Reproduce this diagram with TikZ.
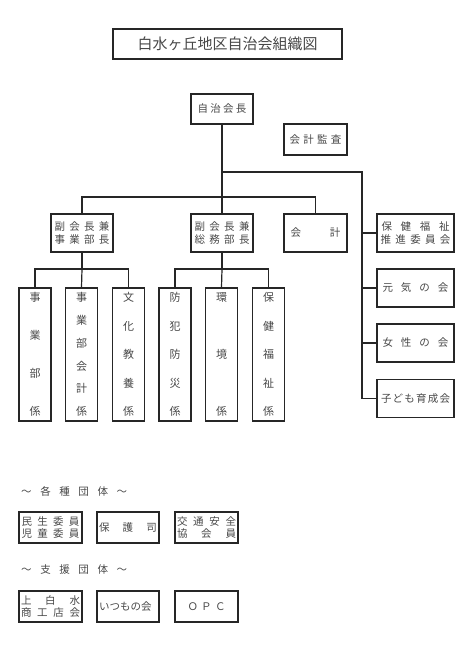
\documentclass[tikz,border=0pt]{standalone}
\usepackage{fontspec}
\newfontfamily\jpn{Noto Sans CJK JP}
\newcommand\jst[2]{\makebox[#1][s]{#2}}
\newcommand\vcol[1]{\parbox[c][123pt][s]{14pt}{\centering #1}}
\tikzset{
  bx/.style={draw=black!85, line width=1.3pt, inner sep=0pt, align=center,
    text=black!72, font=\jpn\fontsize{10.5}{13}\selectfont},
  vbx/.style={bx, minimum width=32pt, minimum height=133pt, font=\jpn\fontsize{11}{12}\selectfont},
  rbx/.style={bx, minimum width=77pt, minimum height=38pt},
  obx/.style={bx, minimum width=63pt, minimum height=31pt, font=\jpn\fontsize{10.5}{12}\selectfont},
  ln/.style={draw=black!85, line width=1.2pt},
  hdr/.style={anchor=west, inner sep=0pt, text=black!72, font=\jpn\fontsize{10.5}{12}\selectfont}
}
\begin{document}
\begin{tikzpicture}[x=1pt,y=-1pt]
\useasboundingbox (0,0) rectangle (474,653);
% title
\node[bx, minimum width=229pt, minimum height=30pt, line width=1.1pt, font=\jpn\fontsize{15}{18}\selectfont] (title) at (227.5,44) {白水ヶ丘地区自治会組織図};
% top
\node[bx, minimum width=62pt, minimum height=30pt] (chair) at (222,109) {\jst{49pt}{自\hfill 治\hfill 会\hfill 長}};
\node[bx, minimum width=63pt, minimum height=31pt] (audit) at (315.5,139.5) {\jst{52pt}{会\hfill 計\hfill 監\hfill 査}};
% level 2
\node[bx, minimum width=62pt, minimum height=38pt] (vp1) at (82,233) {\jst{55pt}{副\hfill 会\hfill 長\hfill 兼}\\\jst{55pt}{事\hfill 業\hfill 部\hfill 長}};
\node[bx, minimum width=62pt, minimum height=38pt] (vp2) at (222,233) {\jst{55pt}{副\hfill 会\hfill 長\hfill 兼}\\\jst{55pt}{総\hfill 務\hfill 部\hfill 長}};
\node[bx, minimum width=63pt, minimum height=38pt] (treas) at (315.5,233) {\jst{50pt}{会\hfill 計}};
% right column
\node[rbx] (r1) at (415.5,233) {\jst{68pt}{保\hfill 健\hfill 福\hfill 祉}\\\jst{70pt}{推\hfill 進\hfill 委\hfill 員\hfill 会}};
\node[rbx] (r2) at (415.5,288) {\jst{66pt}{元\hfill 気\hfill の\hfill 会}};
\node[rbx] (r3) at (415.5,343) {\jst{66pt}{女\hfill 性\hfill の\hfill 会}};
\node[rbx] (r4) at (415.5,398.5) {\jst{69pt}{子\hfill ど\hfill も\hfill 育\hfill 成\hfill 会}};
% vertical boxes
\node[vbx] (s1) at (35,354.5) {\vcol{事\par\vfill 業\par\vfill 部\par\vfill 係}};
\node[vbx] (s2) at (81.5,354.5) {\vcol{事\par\vfill 業\par\vfill 部\par\vfill 会\par\vfill 計\par\vfill 係}};
\node[vbx] (s3) at (128.5,354.5) {\vcol{文\par\vfill 化\par\vfill 教\par\vfill 養\par\vfill 係}};
\node[vbx] (s4) at (175,354.5) {\vcol{防\par\vfill 犯\par\vfill 防\par\vfill 災\par\vfill 係}};
\node[vbx] (s5) at (221.5,354.5) {\vcol{環\par\vfill 境\par\vfill 係}};
\node[vbx] (s6) at (268.5,354.5) {\vcol{保\par\vfill 健\par\vfill 福\par\vfill 祉\par\vfill 係}};
% connectors
\coordinate (j1) at (222,172);
\coordinate (sp) at (362,172);
\coordinate (j2) at (222,197);
\coordinate (k1) at (82,269);
\coordinate (k2) at (222,269);
\draw[ln] (chair.south) -- (vp2.north);
\draw[ln] (j1) -- (sp) |- (r4.west);
\draw[ln] (sp |- r1.west) -- (r1.west);
\draw[ln] (sp |- r2.west) -- (r2.west);
\draw[ln] (sp |- r3.west) -- (r3.west);
\draw[ln] (vp1.north) |- (j2) -| (treas.north);
\draw[ln] (vp1.south) -- (k1);
\draw[ln] (s1.north) |- (k1) -| (s3.north);
\draw[ln] (k1) -- (s2.north);
\draw[ln] (vp2.south) -- (k2);
\draw[ln] (s4.north) |- (k2) -| (s6.north);
\draw[ln] (k2) -- (s5.north);
% groups
\node[hdr] (h1) at (21,491) {\jst{106pt}{〜\hfill 各\hfill 種\hfill 団\hfill 体\hfill 〜}};
\node[obx] (g1) at (50.5,527.5) {\jst{58pt}{民\hfill 生\hfill 委\hfill 員}\\\jst{58pt}{児\hfill 童\hfill 委\hfill 員}};
\node[obx, minimum width=62pt] (g2) at (128,527.5) {\jst{58pt}{保\hfill 護\hfill 司}};
\node[obx] (g3) at (206.5,527.5) {\jst{59pt}{交\hfill 通\hfill 安\hfill 全}\\\jst{59pt}{協\hfill 会\hfill 員}};
\node[hdr] (h2) at (21,570) {\jst{106pt}{〜\hfill 支\hfill 援\hfill 団\hfill 体\hfill 〜}};
\node[obx] (b1) at (50.5,606.5) {\jst{59pt}{上\hfill 白\hfill 水}\\\jst{59pt}{商\hfill 工\hfill 店\hfill 会}};
\node[obx, minimum width=62pt] (b2) at (128,606.5) {\jst{58pt}{いつもの会}};
\node[obx] (b3) at (206.5,606.5) {\jst{38pt}{Ｏ\hfill Ｐ\hfill Ｃ}};
\end{tikzpicture}
\end{document}
